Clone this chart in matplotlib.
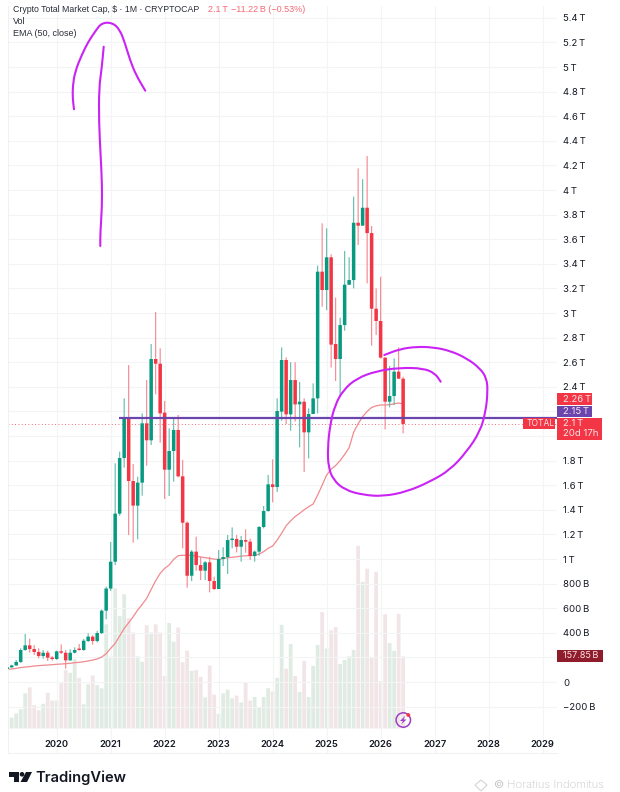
"""Monthly crypto total market cap chart (TradingView style) with hand-drawn marks."""
import numpy as np
import matplotlib

matplotlib.use("Agg")
import matplotlib.pyplot as plt
from matplotlib.patches import Circle, PathPatch, Polygon, Rectangle
from matplotlib.path import Path

plt.rcParams["font.family"] = ["Inter", "DejaVu Sans"]
LEGEND_FONT = ["Liberation Sans", "DejaVu Sans"]

# monthly candles, Feb 2019 .. Jun 2026, in trillions
opens = [.105, .119, .135, .163, .26, .298, .268, .244, .211, .238, .198, .187, .249, .238, .176, .238,
         .271, .26, .333, .369, .333, .398, .58, .76, .978, 1.369, 1.821, 2.154, 1.634, 1.434, 1.621,
         2.103, 1.965, 2.626, 2.588, 2.19, 1.726, 1.878, 2.049, 1.672, 1.295, .864, 1.06, .951, .905,
         .973, .821, .756, 1.0, 1.016, 1.154, 1.163, 1.1, 1.154, 1.141, 1.024, 1.06, 1.26, 1.39, 1.607,
         1.585, 2.198, 2.618, 2.176, 2.455, 2.257, 2.279, 2.03, 2.179, 2.306, 3.336, 3.187, 3.453,
         2.748, 2.626, 2.902, 3.23, 3.268, 3.734, 3.71, 3.856, 3.65, 3.035, 2.935, 2.637, 2.279, 2.325,
         2.523, 2.466]
closes = [.119, .135, .163, .26, .298, .268, .244, .211, .238, .198, .187, .249, .238, .176, .238, .26,
          .26, .336, .369, .333, .398, .58, .76, .978, 1.369, 1.821, 2.154, 1.634, 1.434, 1.621, 2.103,
          1.965, 2.626, 2.588, 2.184, 1.726, 1.878, 2.049, 1.672, 1.295, .864, 1.06, .951, .905, .973,
          .821, .756, 1.0, 1.016, 1.154, 1.163, 1.1, 1.154, 1.141, 1.024, 1.06, 1.26, 1.39, 1.607, 1.585,
          2.203, 2.618, 2.176, 2.455, 2.257, 2.279, 2.03, 2.179, 2.306, 3.336, 3.187, 3.453, 2.743,
          2.626, 2.902, 3.23, 3.268, 3.734, 3.71, 3.856, 3.65, 3.035, 2.935, 2.637, 2.279, 2.325, 2.523,
          2.466, 2.098]
highs = [.119, .14, .179, .274, .39, .352, .30, .274, .26, .255, .211, .255, .306, .26, .266, .282,
         .309, .35, .396, .38, .415, .59, .775, 1.138, 1.778, 1.873, 2.306, 2.577, 1.772, 1.669, 2.184,
         2.455, 2.748, 3.008, 2.713, 2.285, 2.062, 2.152, 2.171, 1.805, 1.306, 1.073, 1.182, 1.019,
         .984, 1.019, .856, 1.073, 1.095, 1.195, 1.257, 1.195, 1.187, 1.241, 1.165, 1.068, 1.268, 1.431,
         1.683, 1.81, 2.306, 2.72, 2.64, 2.6, 2.6, 2.44, 2.306, 2.225, 2.428, 3.385, 3.729, 3.688,
         3.477, 3.125, 2.962, 3.504, 3.453, 3.946, 4.176, 4.087, 4.276, 3.707, 3.2, 3.295, 2.64, 2.569,
         2.631, 2.721, 2.482]
lows = [.10, .115, .13, .155, .255, .238, .22, .192, .19, .171, .173, .18, .228, .108, .171, .233,
        .255, .255, .325, .304, .322, .39, .51, .74, .951, 1.352, 1.743, 1.195, 1.133, 1.16, 1.515,
        1.759, 1.927, 2.339, 1.946, 1.488, 1.512, 1.629, 1.664, 1.087, .767, .821, .905, .829, .829,
        .729, .748, .756, .943, .878, 1.087, 1.054, .978, 1.051, .992, .978, 1.027, 1.249, 1.385, 1.461,
        1.545, 2.125, 2.098, 2.043, 2.117, 1.908, 1.707, 1.818, 2.184, 2.184, 3.051, 3.024, 2.558,
        2.447, 2.32, 2.856, 3.23, 3.2, 3.553, 3.71, 3.241, 2.734, 2.821, 2.631, 2.054, 2.233, 2.252,
        2.466, 2.022]
# volume, billions
volumes = [16, 24, 33, 42, 77, 90, 51, 40, 54, 78, 61, 61, 99, 128, 122, 152, 111, 53, 97, 116, 95, 88,
           228, 157, 307, 246, 294, 241, 210, 158, 146, 226, 210, 228, 210, 115, 231, 190, 221, 145, 170,
           126, 128, 113, 68, 138, 74, 32, 77, 85, 66, 72, 57, 100, 61, 69, 46, 69, 88, 81, 111, 227, 131,
           185, 115, 80, 148, 69, 137, 183, 255, 175, 215, 222, 141, 150, 158, 172, 400, 321, 350, 156,
           343, 104, 250, 187, 170, 251, 157.85]
ema50 = [.103, .106, .111, .117, .122, .125, .13, .133, .136, .138, .141, .144, .146, .149, .152, .157,
         .16, .165, .171, .179, .187, .203, .23, .274, .314, .374, .436, .482, .531, .585, .631, .68,
         .753, .824, .883, .924, .951, .997, 1.027, 1.03, 1.03, 1.03, 1.024, 1.016, 1.011, 1.005, .999,
         .997, 1.003, 1.011, 1.014, 1.018, 1.024, 1.026, 1.028, 1.03, 1.04, 1.06, 1.087, 1.106, 1.154,
         1.21, 1.27, 1.31, 1.345, 1.371, 1.40, 1.425, 1.447, 1.52, 1.60, 1.683, 1.73, 1.76, 1.80, 1.85,
         1.905, 2.03, 2.10, 2.157, 2.20, 2.232, 2.245, 2.252, 2.252, 2.255, 2.262, 2.268, 2.26]

years = [2020, 2021, 2022, 2023, 2024, 2025, 2026, 2027, 2028, 2029]
price_ticks = [5.4, 5.2, 5, 4.8, 4.6, 4.4, 4.2, 4, 3.8, 3.6, 3.4, 3.2, 3, 2.8, 2.6, 2.4, 2.2, 2, 1.8, 1.6,
               1.4, 1.2, 1, .8, .6, .4, .2, 0, -.2]
price_labels = ["5.4\u2009T", "5.2\u2009T", "5\u2009T", "4.8\u2009T", "4.6\u2009T", "4.4\u2009T", "4.2\u2009T",
                "4\u2009T", "3.8\u2009T", "3.6\u2009T", "3.4\u2009T", "3.2\u2009T", "3\u2009T", "2.8\u2009T",
                "2.6\u2009T", "2.4\u2009T", "", "", "1.8\u2009T", "1.6\u2009T", "1.4\u2009T", "1.2\u2009T",
                "1\u2009T", "800\u2009B", "600\u2009B", "400\u2009B", "", "0", "\u2212200\u2009B"]
support_level = 2.15
last_price = 2.1

GREEN = "#089981"
RED = "#F23645"
PURPLE = "#6A45AE"
MAGENTA = "#CB22F5"
INK = "#131722"
W, H = 620, 792

fig = plt.figure(figsize=(W / 100, H / 100), dpi=100, facecolor="white")
pos = [8 / W, 1 - 753 / H, 549 / W, 747 / H]

ax_vol = fig.add_axes(pos, zorder=1)
ax = fig.add_axes(pos, zorder=2, sharex=ax_vol)
ax.patch.set_visible(False)

months = np.arange(len(opens))
o, c, hi, lo = map(np.array, (opens, closes, highs, lows))
up = c >= o

vol_bars = ax_vol.bar(months, volumes, width=0.84, color=np.where(up, "#E0ECE3", "#F1E5E7"), linewidth=0)
for b in vol_bars:
    b.set_snap(False)
ax_vol.set_ylim(-53.7, 1582)
ax_vol.axis("off")

ax.plot(months, ema50, color="#F08A8F", lw=0.9, zorder=2)
wicks = ax.vlines(months, lo, hi, colors=np.where(up, "#5DBBA9", "#F5848E"), lw=0.8, zorder=3)
wicks.set_snap(False)
bodies = ax.bar(months, np.maximum(np.abs(c - o), 0.012), bottom=np.minimum(o, c), width=0.78,
                color=np.where(up, GREEN, RED), linewidth=0, zorder=4)
for b in bodies:
    b.set_snap(False)

ax.hlines(support_level, 24.84, 122.2, color=PURPLE, lw=1.6, zorder=5)
ax.axhline(last_price, color=RED, lw=0.6, ls=(0, (1, 3)), zorder=1)

ax.set_xlim(0.178, 122.2)
ax.set_ylim(-0.5772, 5.496)
ax.set_xticks([11 + 12 * i for i in range(len(years))])
ax.set_xticklabels([str(y) for y in years], fontsize=6.7, fontweight="semibold", color=INK)
ax.set_yticks(price_ticks)
ax.set_yticklabels(price_labels, fontsize=6.9, color=INK)
ax.yaxis.tick_right()
ax.tick_params(axis="x", length=0, pad=-9.7)
ax.tick_params(axis="y", length=0, pad=4.3)
ax.grid(True, color="#F3F4F5", lw=0.8)
ax.set_axisbelow(True)
for side, spine in ax.spines.items():
    spine.set_visible(side in ("left", "bottom"))
    spine.set_color("#F0F1F2")
    spine.set_linewidth(0.8)

# overlay in image pixels for legend text, price tags, logo and the hand-drawn marks
ov = fig.add_axes([0, 0, 1, 1], zorder=5)
ov.set_xlim(0, W)
ov.set_ylim(H, 0)
ov.axis("off")

ov.text(13, 9.3, "Crypto Total Market Cap, $ · 1M · CRYPTOCAP", fontsize=6.35, color="#2A2E39",
        va="center", family=LEGEND_FONT)
ov.text(208, 9.3, "2.1\u2009T", fontsize=6.45, color=RED, alpha=0.75, va="center", family=LEGEND_FONT)
ov.text(231, 9.3, "\u221211.22\u2009B (\u22120.53%)", fontsize=6.45, color=RED, alpha=0.75, va="center",
        family=LEGEND_FONT)
ov.text(13, 21, "Vol", fontsize=6.5, color="#2A2E39", va="center", family=LEGEND_FONT)
ov.text(13, 33.7, "EMA (50, close)", fontsize=6.5, color="#2A2E39", va="center", family=LEGEND_FONT)


def tag(x0, y0, x1, y1, color, text, tx=None, ty=None, size=6.9):
    ov.add_patch(Rectangle((x0, y0), x1 - x0, y1 - y0, color=color, lw=0, zorder=3))
    ov.text(x0 + 6 if tx is None else tx, (y0 + y1) / 2 if ty is None else ty, text,
            fontsize=size, color="#FBE3E5", va="center", zorder=4)


tag(557, 393, 592, 405, RED, "2.26\u2009T")
tag(557, 405.5, 592, 417, PURPLE, "2.15\u2009T")
tag(523, 418, 555, 429, RED, "TOTAL", tx=527, size=6.1)
tag(557, 418, 602, 440, RED, "2.1\u2009T", ty=424)
ov.text(563, 434, "20d 17h", fontsize=6.9, color="#FBE3E5", va="center", zorder=4)
tag(557, 650, 603, 662, "#8E1C2B", "157.85\u2009B", tx=563, size=6.5)

# lightning badge
ov.add_patch(Circle((403.3, 720), 7.2, fill=False, ec="#9C3FC4", lw=1.1))
ov.add_patch(Polygon([(405.5, 715.5), (400, 721), (403, 721), (401, 724.5), (406.5, 719.5), (403.5, 719.5)],
                     color="#9C3FC4", lw=0))
ov.add_patch(Circle((408.3, 715), 1.9, color=RED, lw=0))

# TradingView logo
ov.add_patch(Polygon([(9, 772), (19, 772), (19, 782), (14, 782), (14, 776.5), (9, 776.5)], color=INK, lw=0))
ov.add_patch(Circle((22, 774.3), 2.3, color=INK, lw=0))
ov.add_patch(Polygon([(26, 772), (32, 772), (27, 782), (20.5, 782)], color=INK, lw=0))
ov.text(35.5, 778, "TradingView", fontsize=10.6, fontweight="semibold", color=INK, va="center")

# watermark
ov.add_patch(Polygon([(481, 780), (487, 785), (481, 791), (475, 785)], fill=False, ec="#D5D5D5", lw=0.8))
ov.text(493, 785, "©", fontsize=8, color="#C6C6C6", va="center")
ov.text(507, 785, "Horatius Indomitus", fontsize=8.2, color="#C6C6C6", va="center", fontweight="light")

# hand-drawn marks
arrow_head_x = [74, 72.7, 72.7, 75, 81.7, 88.3, 95, 101.7, 112.7, 120, 125, 130, 136, 145.3]
arrow_head_y = [109.3, 98.3, 86.7, 71.7, 55, 41.7, 31.7, 22.7, 22.7, 30, 43.3, 60, 75, 90.7]
arrow_shaft_x = [103.7, 101.7, 99, 99, 100.7, 102, 102, 100.3, 100.3]
arrow_shaft_y = [46.7, 68.3, 88.3, 123.3, 156.7, 183.3, 206.7, 233.3, 246]
circle_x = [384.3, 400, 416.7, 433.3, 450, 466.7, 480, 486.7, 487.7, 485.7, 480, 466.7, 450, 430, 406.7,
            383.3, 363.3, 345, 333.3, 328.3, 327.7, 330, 335, 343.3, 356.7, 376.7, 400, 423.3, 435, 440.7]
circle_y = [355, 349, 346.7, 347.3, 350.7, 358.3, 368.3, 378.3, 391.7, 411.7, 431.7, 451.7, 470, 481.7, 491.7,
            496.3, 495, 490, 480, 466.7, 448.3, 425, 405, 390, 378.3, 371, 367.7, 368.3, 373.3, 381.7]


def stroke(xs, ys):
    # quadratic segments through the midpoints, so the pen stroke has no corners
    pts = np.column_stack([xs, ys])
    mids = (pts[:-1] + pts[1:]) / 2
    verts = [pts[0], mids[0]]
    codes = [Path.MOVETO, Path.LINETO]
    for ctrl, end in zip(pts[1:-1], mids[1:]):
        verts += [ctrl, end]
        codes += [Path.CURVE3, Path.CURVE3]
    verts.append(pts[-1])
    codes.append(Path.LINETO)
    ov.add_patch(PathPatch(Path(verts, codes), fill=False, ec=MAGENTA, lw=1.5, capstyle="round", joinstyle="round"))


stroke(arrow_head_x, arrow_head_y)
stroke(arrow_shaft_x, arrow_shaft_y)
stroke(circle_x, circle_y)

fig.savefig("out.png", dpi=100)
